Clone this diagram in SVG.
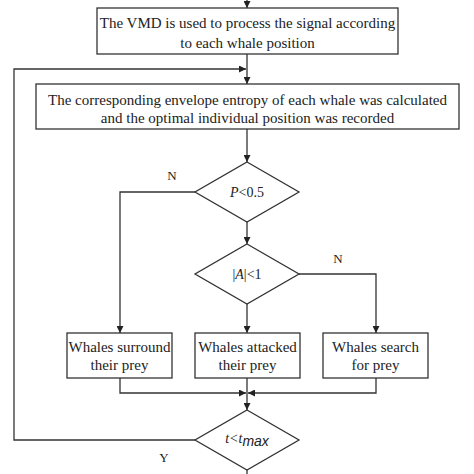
<svg xmlns="http://www.w3.org/2000/svg" width="474" height="474" viewBox="0 0 474 474">
<style>
.box{fill:#fff;stroke:#333;stroke-width:1.3}
.ln{fill:none;stroke:#333;stroke-width:1.3}
.t{font-family:"Liberation Serif","Times New Roman",serif;font-size:15px;fill:#222;text-anchor:middle}
.d{font-size:14px}
.lbl{font-family:"Liberation Serif","Times New Roman",serif;font-size:13px;fill:#222;text-anchor:middle}
</style>
<defs>
<marker id="ah" viewBox="0 0 10 10" refX="10" refY="5" markerWidth="7" markerHeight="7" markerUnits="userSpaceOnUse" orient="auto">
<path d="M0,0 L10,5 L0,10 z" fill="#222"/>
</marker>
</defs>
<rect width="474" height="474" fill="#fff"/>
<g id="connectors">
<line class="ln" x1="247" y1="0" x2="247" y2="8" marker-end="url(#ah)"/>
<line class="ln" x1="247" y1="54" x2="247" y2="84" marker-end="url(#ah)"/>
<line class="ln" x1="247" y1="129" x2="247" y2="162" marker-end="url(#ah)"/>
<polyline class="ln" points="195,192 120,192 120,333" marker-end="url(#ah)"/>
<line class="ln" x1="247" y1="222" x2="247" y2="244" marker-end="url(#ah)"/>
<line class="ln" x1="247" y1="304" x2="247" y2="333" marker-end="url(#ah)"/>
<polyline class="ln" points="299,274 376,274 376,333" marker-end="url(#ah)"/>
<polyline class="ln" points="120,378 120,393 246,393" marker-end="url(#ah)"/>
<polyline class="ln" points="376,378 376,393 248,393" marker-end="url(#ah)"/>
<line class="ln" x1="247" y1="378" x2="247" y2="410" marker-end="url(#ah)"/>
<polyline class="ln" points="195,440 14,440 14,69 246,69" marker-end="url(#ah)"/>
<line class="ln" x1="247" y1="470" x2="247" y2="474"/>
<text class="lbl" x="172" y="180">N</text>
<text class="lbl" x="338" y="263">N</text>
<text class="lbl" x="164" y="462">Y</text>
</g>
<g id="vmd">
<rect class="box" x="97" y="8" width="301" height="46"/>
<text class="t" x="247.5" y="28">The VMD is used to process the signal according</text>
<text class="t" x="247.5" y="48">to each whale position</text>
</g>
<g id="entropy">
<rect class="box" x="36" y="84" width="423" height="45"/>
<text class="t" x="247.5" y="105">The corresponding envelope entropy of each whale was calculated</text>
<text class="t" x="247.5" y="123">and the optimal individual position was recorded</text>
</g>
<g id="d-p">
<polygon class="box" points="247,162 299,192 247,222 195,192"/>
<text class="t d" x="247" y="197"><tspan font-style="italic">P</tspan>&lt;0.5</text>
</g>
<g id="d-a">
<polygon class="box" points="247,244 299,274 247,304 195,274"/>
<text class="t d" x="247" y="279">|<tspan font-style="italic">A</tspan>|&lt;1</text>
</g>
<g id="surround">
<rect class="box" x="67" y="333" width="105" height="45"/>
<text class="t" x="119.5" y="352">Whales surround</text>
<text class="t" x="119.5" y="370">their prey</text>
</g>
<g id="attack">
<rect class="box" x="195" y="333" width="105" height="45"/>
<text class="t" x="247.5" y="352">Whales attacked</text>
<text class="t" x="247.5" y="370">their prey</text>
</g>
<g id="search">
<rect class="box" x="323" y="333" width="105" height="45"/>
<text class="t" x="375.5" y="352">Whales search</text>
<text class="t" x="375.5" y="370">for prey</text>
</g>
<g id="d-t">
<polygon class="box" points="247,410 299,440 247,470 195,440"/>
<text class="t d" x="247" y="443" font-size="13" font-style="italic">t&lt;t<tspan font-family="'Liberation Sans',Arial,sans-serif" font-size="14" dy="3">max</tspan></text>
</g>
</svg>
